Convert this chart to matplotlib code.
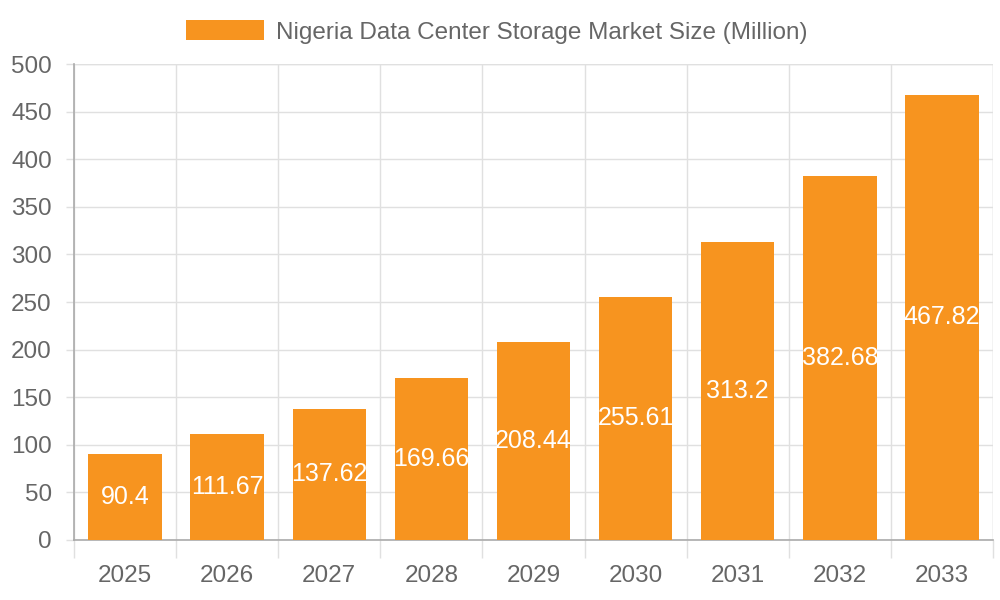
import numpy as np
import matplotlib
matplotlib.use("Agg")
import matplotlib.pyplot as plt
from matplotlib.ticker import FixedLocator

years = ["2025", "2026", "2027", "2028", "2029", "2030", "2031", "2032", "2033"]
values = [90.4, 111.67, 137.62, 169.66, 208.44, 255.61, 313.2, 382.68, 467.82]
labels = ["90.4", "111.67", "137.62", "169.66", "208.44", "255.61", "313.2", "382.68", "467.82"]
y_ticks = [0, 50, 100, 150, 200, 250, 300, 350, 400, 450, 500]
series_name = "Nigeria Data Center Storage Market Size (Million)"

plt.rcParams['font.family'] = ['Liberation Sans', 'DejaVu Sans']
bar_color = "#F7941F"
text_color = "#666666"
grid_color = "#E0E0E0"
axis_color = "#AAAAAA"

fig = plt.figure(figsize=(10, 6), dpi=100)
ax = fig.add_axes([0.074, 0.1, 0.919, 0.7933])

x = np.arange(len(years))
bars = ax.bar(x, values, width=0.72, color=bar_color, label=series_name, zorder=3)

# value labels sit in the middle of each bar
for xi, v, lab in zip(x, values, labels):
    ax.text(xi, v / 2, lab, ha="center", va="center", color="white", fontsize=18, zorder=4)

ax.set_xlim(-0.5, len(years) - 0.5)
ax.set_ylim(0, 500)
ax.set_yticks(y_ticks)
ax.set_xticks(x)
ax.set_xticklabels(years)
ax.xaxis.set_minor_locator(FixedLocator(np.arange(len(years) + 1) - 0.5))

ax.tick_params(axis="x", which="major", length=0, pad=18, labelsize=17.5, labelcolor=text_color)
ax.tick_params(axis="x", which="minor", length=13, color=grid_color, width=1)
ax.tick_params(axis="y", which="major", length=6, color=grid_color, width=1, pad=10,
               labelsize=17.5, labelcolor=text_color)

ax.grid(True, axis="y", which="major", color=grid_color, linewidth=1, zorder=0)
ax.grid(True, axis="x", which="minor", color=grid_color, linewidth=1, zorder=0)

for side in ["top", "right"]:
    ax.spines[side].set_visible(False)
ax.spines["left"].set_color(axis_color)
ax.spines["bottom"].set_color(axis_color)
ax.spines["left"].set_linewidth(1.2)
ax.spines["bottom"].set_linewidth(1.2)
ax.axhline(500, color=grid_color, linewidth=1, zorder=0)
ax.axvline(len(years) - 0.5, color=grid_color, linewidth=1, zorder=0)

fig.legend(handles=[bars], labels=[series_name], loc="center", bbox_to_anchor=(0.497, 0.947),
           frameon=False, fontsize=17.5, labelcolor=text_color, handlelength=3.2, handleheight=0.9,
           handletextpad=0.5)

fig.savefig("out.png", dpi=100)
